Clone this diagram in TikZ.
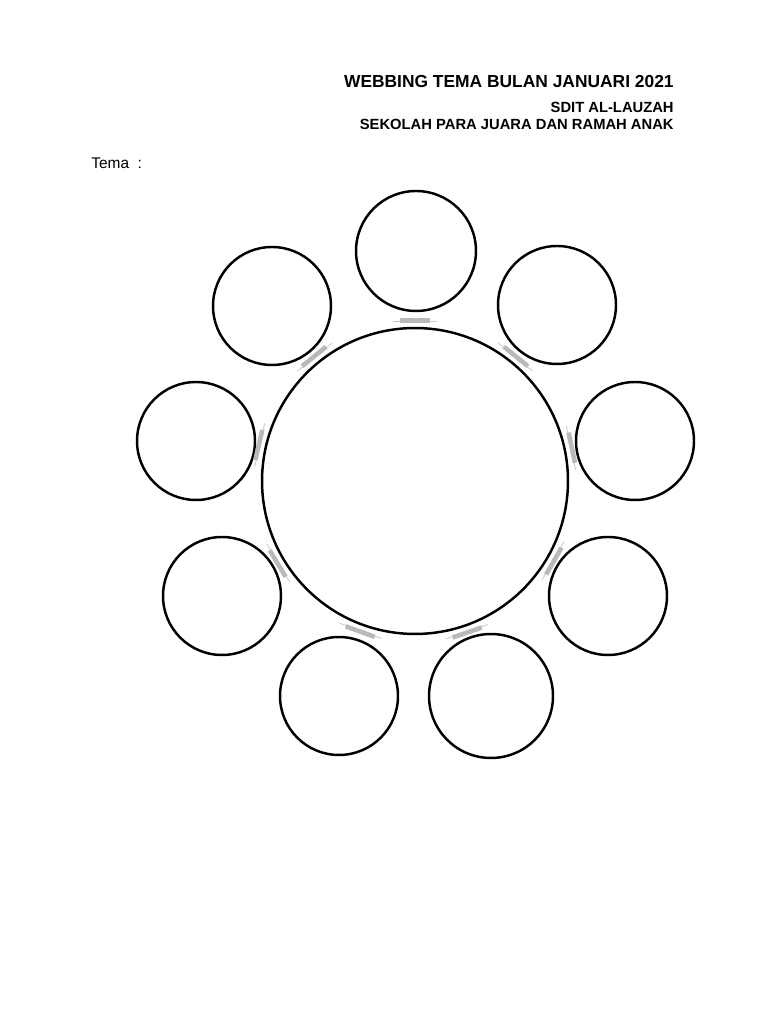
\documentclass[tikz,border=0pt]{standalone}
\usepackage{fontspec}
\setmainfont{Liberation Sans}
\usetikzlibrary{calc}

\tikzset{
  hubcircle/.style={circle, draw, line width=1.4pt, minimum size=6.12cm, inner sep=0pt},
  leafcircle/.style={circle, draw, line width=1.4pt, minimum size=2.36cm, inner sep=0pt},
  linkbar/.style={draw=gray!55, line width=2.6pt},
  linktail/.style={draw=gray!40, line width=0.5pt}
}

\begin{document}
\begin{tikzpicture}[x=0.02cm, y=0.02cm]
\useasboundingbox (0,0) rectangle (768,1024);

% Header
\node[anchor=east, font=\bfseries\fontsize{9.9}{12}\selectfont, inner sep=0pt] (title) at (674,942) {WEBBING TEMA BULAN JANUARI 2021};
\node[anchor=east, font=\bfseries\fontsize{8.4}{10}\selectfont, inner sep=0pt] (school) at (674,917) {SDIT AL-LAUZAH};
\node[anchor=east, font=\bfseries\fontsize{8.4}{10}\selectfont, inner sep=0pt] (motto) at (674,900) {SEKOLAH PARA JUARA DAN RAMAH ANAK};
\node[anchor=west, font=\fontsize{8.8}{10}\selectfont, inner sep=0pt] (tema) at (91,861) {Tema\ \ :};

% Centre circle
\node[hubcircle] (hub) at (415,543) {};

% Outer circles
\node[leafcircle, minimum size=2.4cm] (leafA) at (416,773) {};
\node[leafcircle] (leafB) at (272,718) {};
\node[leafcircle] (leafC) at (557,719) {};
\node[leafcircle] (leafD) at (196,583) {};
\node[leafcircle] (leafE) at (635,583) {};
\node[leafcircle] (leafF) at (222,428) {};
\node[leafcircle] (leafG) at (608,428) {};
\node[leafcircle] (leafH) at (339,328) {};
\node[leafcircle, minimum size=2.48cm] (leafI) at (491,328) {};

% Grey links round the centre
\foreach \a in {90,129,51,167,12,211,-30,250,-71} {
  \draw[linktail] ($(hub.center)+(\a-8:161)$) -- ($(hub.center)+(\a+8:161)$);
  \draw[linkbar] ($(hub.center)+(\a-5.5:161)$) -- ($(hub.center)+(\a+5.5:161)$);
}

\end{tikzpicture}
\end{document}
